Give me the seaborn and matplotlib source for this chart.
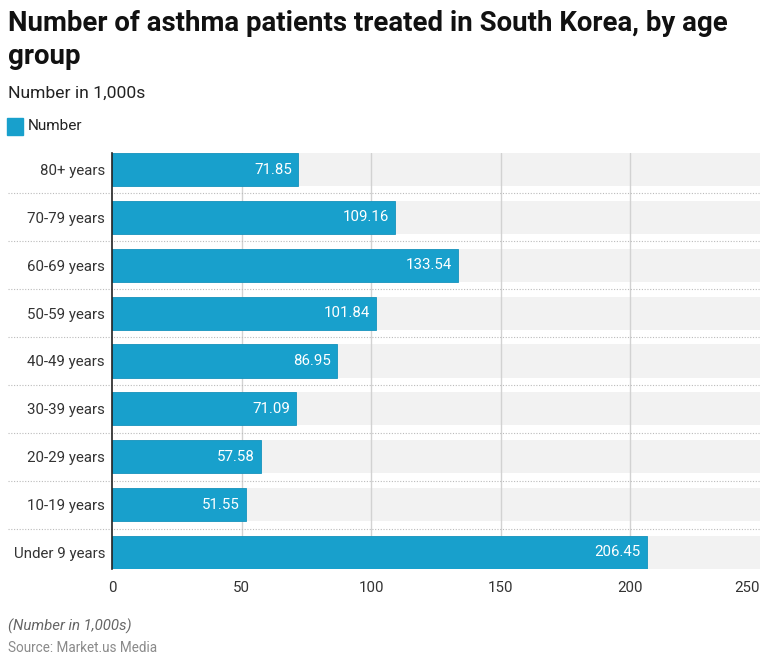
import pandas as pd
import seaborn as sns
import matplotlib.pyplot as plt

# data (numbers in 1,000s)
age_groups = ['80+ years', '70-79 years', '60-69 years', '50-59 years', '40-49 years',
              '30-39 years', '20-29 years', '10-19 years', 'Under 9 years']
patients = [71.85, 109.16, 133.54, 101.84, 86.95, 71.09, 57.58, 51.55, 206.45]
x_ticks = [0, 50, 100, 150, 200, 250]

df = pd.DataFrame({'age': age_groups, 'number': patients})

BAR = '#18a0cc'
W, H = 766, 665

sns.set_style('white')
plt.rcParams['font.family'] = ['Roboto', 'DejaVu Sans']

fig = plt.figure(figsize=(W / 100, H / 100), dpi=100)
ax = fig.add_axes([112 / W, 1 - 569 / H, (760 - 112) / W, (569 - 153) / H])

# grey row backgrounds
for i in range(len(age_groups)):
    ax.axhspan(i - 0.345, i + 0.345, color='#f2f2f2', zorder=0, lw=0)

# vertical grid
for v in x_ticks[1:-1]:
    ax.axvline(v, color='#d2d2d2', lw=1, zorder=1)

sns.barplot(data=df, x='number', y='age', orient='h', color=BAR,
            width=0.69, saturation=1, ax=ax, zorder=2, edgecolor='#1593bd', linewidth=0.6)

ax.set_xlim(0, 250)
ax.set_ylim(len(age_groups) - 1 + 0.345, -0.345)

# dotted separators between rows
for i in range(len(age_groups) - 1):
    ax.axhline(i + 0.5, xmin=-104 / 648, xmax=1, color='#bbbbbb', lw=0.8,
               ls=(0, (1, 1.5)), clip_on=False, zorder=1)

# value labels
for i, v in enumerate(patients):
    ax.text(v - 2.4, i, f'{v:.2f}', color='white', ha='right', va='center',
            fontsize=10.8, zorder=3)

for s in ['top', 'right', 'bottom']:
    ax.spines[s].set_visible(False)
ax.spines['left'].set_color('#222222')
ax.spines['left'].set_linewidth(1.2)
ax.spines['left'].set_zorder(4)

ax.set_xticks(x_ticks)
ax.tick_params(axis='both', length=0, labelsize=10.8, colors='#333333')
ax.tick_params(axis='x', pad=9)
ax.tick_params(axis='y', pad=5)
ax.get_xticklabels()[-1].set_horizontalalignment('right')
ax.set_xlabel('')
ax.set_ylabel('')

# titles and legend
fig.text(8 / W, 1 - 10 / H, 'Number of asthma patients treated in South Korea, by age\ngroup',
         fontsize=19.9, fontweight='bold', va='top', ha='left', color='#111111', linespacing=1.3)
fig.text(8 / W, 1 - 93 / H, 'Number in 1,000s', fontsize=12.6, va='center', ha='left', color='#222222')
fig.patches.append(plt.Rectangle((7 / W, 1 - 135 / H), 16 / W, 17 / H, transform=fig.transFigure,
                                 color=BAR, figure=fig))
fig.text(28 / W, 1 - 126 / H, 'Number', fontsize=11, va='center', ha='left', color='#222222')

# footer
fig.text(8 / W, 1 - 626 / H, '(Number in 1,000s)', fontsize=10.8, style='italic',
         va='center', ha='left', color='#666666')
fig.text(8 / W, 1 - 648 / H, 'Source: Market.us Media', fontsize=9.75,
         va='center', ha='left', color='#8a8a8a')

fig.savefig('out.png', dpi=100)
